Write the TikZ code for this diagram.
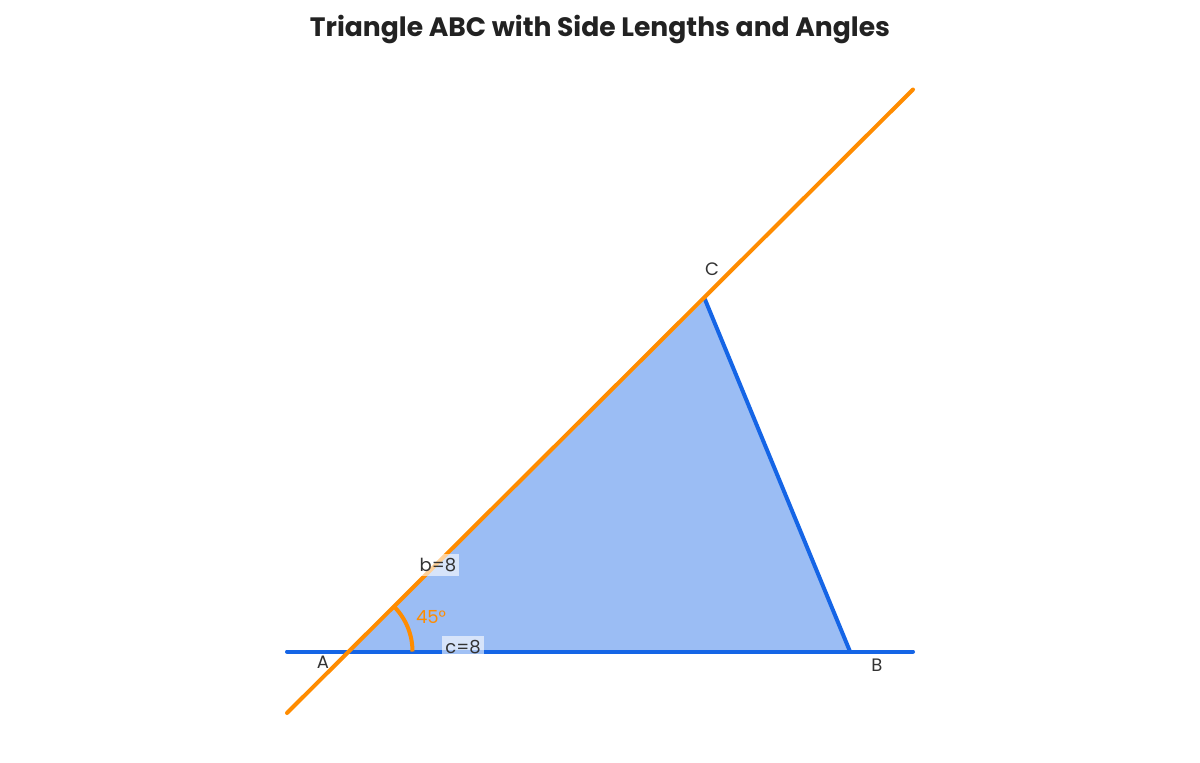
\documentclass[tikz,border=0pt]{standalone}
\usepackage{fontspec}
\usetikzlibrary{calc}
\setmainfont{Poppins}
\begin{document}
\begin{tikzpicture}[x=1pt,y=-1pt,
  blueline/.style={draw=lineblue,line width=4pt,line cap=round},
  orangeline/.style={draw=lineorange,line width=4pt,line cap=round},
  lbl/.style={font=\fontsize{18}{21}\selectfont,text=labeltext,inner sep=1pt},
  sidelbl/.style={lbl,fill=white,fill opacity=0.6,text opacity=1,inner xsep=3pt,inner ysep=4pt}]
\definecolor{lineblue}{HTML}{1565E6}
\definecolor{lineorange}{HTML}{FF8C00}
\definecolor{fillblue}{HTML}{9BBDF4}
\definecolor{labeltext}{HTML}{333333}
\useasboundingbox[fill=white] (0,0) rectangle (1200,763);
\node[font=\fontsize{26.6}{31}\selectfont\bfseries,text={rgb,255:red,34;green,34;blue,34}] (title) at (600,30) {Triangle ABC with Side Lengths and Angles};
\coordinate (A) at (348.5,651.5);
\coordinate (B) at (850,651.5);
\coordinate (C) at (705,299.5);
\coordinate (L1) at (287,651.5);
\coordinate (L2) at (913,651.5);
\coordinate (O1) at (287,713);
\coordinate (O2) at (913,89.5);
\coordinate (R) at (412.5,651.5);
\fill[fillblue] (A) -- (B) -- (C) -- cycle;
\draw[blueline] (L1) -- (L2);
\draw[blueline] (B) -- (C);
\draw[draw=lineorange,line width=4pt] (R) arc[start angle=0,end angle=-45,radius=64];
\draw[orangeline] (O1) -- (O2);
\node[lbl] (la) at (323,662) {A};
\node[lbl] (lb) at (877,665) {B};
\node[lbl] (lc) at (712,269) {C};
\node[sidelbl] (sb) at (438,565) {b=8};
\node[sidelbl] (sc) at (463,647) {c=8};
\node[lbl,text=lineorange] (ang) at (431,617) {45°};
\end{tikzpicture}
\end{document}
